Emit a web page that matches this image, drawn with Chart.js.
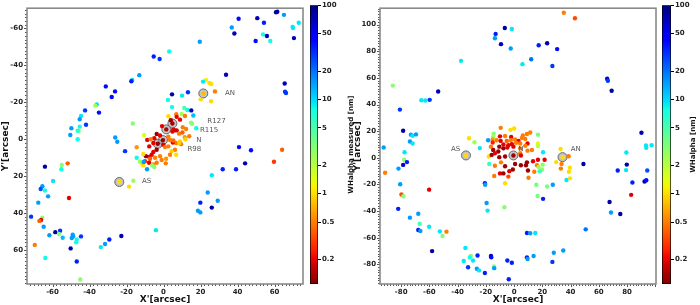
<!DOCTYPE html>
<html><head><meta charset="utf-8">
<script src="https://cdn.jsdelivr.net/npm/chart.js@4/dist/chart.umd.min.js"></script>
<style>
html,body{margin:0;padding:0;background:#fff;width:700px;height:305px;overflow:hidden}
canvas{position:absolute;left:0;top:0}
</style></head><body>
<canvas id="cL" width="700" height="305"></canvas>
<canvas id="cbL" width="700" height="305"></canvas>
<canvas id="cR" width="700" height="305"></canvas>
<canvas id="cbR" width="700" height="305"></canvas>
<script>
// ---------- data: left panel (WHalpha measured) ----------
const xL = [3.1,-5.3,-2.1,-13.1,-16.9,-17.4,-31.2,-26.2,-28,4.6,2.4,4.6,-36.1,-36.9,-42.4,-34.9,-44.6,-45.3,-41.9,-49.8,-45.3,-45.8,-46.4,-50.4,-46.4,-16.6,-26.1,-25,-20.8,-14.5,-10.5,
 61.5,60.8,65.1,73.1,69.8,70,40.6,50.7,54.3,36.9,38.3,53.8,55.9,57.7,49.8,70.5,19.6,33.8,65.5,65.7,66.2,23,21.4,24.8,25.8,13.2,10,21.5,27.8,20.1,25.7,11.2,12.9,15,6.9,9.8,11.6,16.1,8.9,4.8,14.9,15.4,5.3,6.2,7.1,17.7,10.4,8.4,10.2,13.9,11.5,11.8,8.9,6.8,5,9.5,40.8,47.3,64.1,
 7.1,2.6,3.9,1.5,-0.8,12.2,4.8,-3.7,-1.9,-5,-8.8,-6.9,-0.3,2.6,3.5,5.3,8.5,-3.1,-5.5,-7.7,-0.1,0.8,2.6,6.2,4.4,-3.7,-5.5,-6.4,-7.7,-9.5,-10.9,-7.3,-4.6,-1.9,-1,1.4,-3.7,-10,-11.8,-12.7,-14.5,-10.9,-5.5,-7.8,1.2,3.5,6.8,
 -64.1,-55,-55.2,-51.8,-59.7,-65.5,-66.4,-64.1,-62.4,-51.1,-67.7,-71.6,-65.5,-66.2,-67.1,-64.8,-58.5,-55.9,-56.5,-61.7,-49.1,-48.9,-49.6,-46.9,-47.2,-44.6,-54.5,-50.2,-69.6,-63.9,-46.9,-45,-29.3,-31.6,-33.9,-22.8,-4.1,-23.9,-18.6,-16.3,-10.7,-8.9,-6.1,-5,
 44.1,39.2,32,59.7,26.1,23.9,29.3,19.9,26.1,18.6,19.9];
const yL = [-47.5,-44.8,-43.5,-34.7,-32.1,-31.4,-28.6,-25.9,-22.9,-24.3,-21.3,-17.4,-18.8,-18.2,-15.6,-14.4,-12.6,-10.8,-7.8,-5.9,-6.8,-4.6,-4.6,-2.3,0,-8.5,-0.9,1.4,6.5,4.4,-2.3,
 -69.1,-68.8,-67.4,-63.1,-60.8,-60.3,-65.3,-65.6,-63.1,-60.5,-57.3,-56.8,-55.9,-53.2,-53.2,-54.8,-52.8,-34.9,-30.2,-25.7,-25,-32.1,-31.2,-30.5,-29.9,-25.4,-23.6,-24.8,-25.9,-21.6,-20.6,-16.9,-15.8,-15.6,-13.5,-13.7,-12.6,-12.8,-10.6,-8.5,-9,-8.4,-5.2,-4.8,-4.8,-5.9,-6.5,-3,-3.6,-1.6,-1.1,0,1.2,2.1,1.8,2.7,4.3,6,5.7,
 -12.1,-12.4,-10.3,-5.3,-7.1,-5.5,-4.1,-2.8,-2,-0.5,0.4,0,0.5,-1.4,0.4,0.7,2.1,2.5,2.1,3.9,3,4.3,3.9,5.7,6.5,5.7,6.9,8.4,9.6,9.2,8,10.6,10.1,9.2,11.3,10.6,12.8,11.9,12.9,12.2,10.1,14.2,13.7,12.8,13.1,8.4,8.4,
 14.9,14,16.3,13.1,22.7,25.5,27,27.8,31,31.9,34.4,42,42.6,43.8,44.3,47.5,50.4,49.6,51.4,52.1,51.8,52.7,53.6,54.4,55.9,52.7,53.4,59.2,57.3,64.4,66.3,76.1,54.4,56.8,58.5,52.5,49.3,23.2,25.7,22.5,12.4,16.3,14.2,15.1,
 13.1,16.3,16.3,12.2,19.5,28.9,33.4,34.4,37.1,38.8,39.7];
const wL = [8,35,30,15,10,35,40,40,40,80,8,8,10,2.5,30,40,9,15,30,15,8,2.5,7,15,8,3,15,15,30,0.6,1.5,
 80,80,15,9,9,9,40,70,35,15,70,8,70,8,40,70,15,70,70,30,30,1.1,9,1,1,30,9,0.8,0.5,1,1,5,8,70,0.5,2.5,0.5,12,0.2,0.15,3,3,0.2,0.2,0.18,8,0.5,0.5,0.4,0.5,0.6,0.9,0.9,0.5,0.2,0.5,40,40,0.4,
 0.2,1,0.13,0.15,0.2,0.5,0.2,0.13,0.2,0.2,0.2,0.5,0.13,0.5,0.5,0.45,0.9,0.13,0.2,0.2,0.2,0.5,0.5,0.5,0.9,0.13,0.2,0.2,0.2,0.13,1,0.4,0.5,0.5,0.5,0.6,0.5,0.25,1,2.5,8,1,0.5,0.2,0.5,0.5,1,
 80,3,8,0.4,9,15,25,8,15,0.2,15,30,3,0.2,0.4,15,80,30,3,15,15,15,15,8,8,30,12,80,0.5,8,35,3,35,15,9,80,9,1,1,2.5,15,15,3,3,
 80,35,35,0.3,9,15,15,35,80,15,15];
const markLx = [21.5,4.8,1.5,-0.3,-3.1,-23.9];
const markLy = [-24.8,-8.5,-5.3,0.5,2.5,23.2];
const labLtext = ['AN','R127','R115','N','R98','AS'];
const labLx = [33.2,23.7,19.7,17.7,12.9,-11.6];
const labLy = [-24.8,-9.7,-4.8,0.4,5.2,22.9];
const xTicksL = [-60,-40,-20,0,20,40,60];
const yTicksL = [-60,-40,-20,0,20,40,60];

// ---------- data: right panel (WHalpha) ----------
const xR = [-6.6,-1.6,-13.1,-13.6,-9.3,-2.4,12.1,5.9,-37.6,-85.9,-53.8,-65.7,-62.9,-59.8,-80.9,-78.6,-73.1,-71.9,-69.5,-73.8,-71.9,-92.4,-77.6,-31.9,-28.1,-24.3,-18.4,-14.5,-14.8,-9.5,-2.6,0,
 35.2,43.1,17.4,23.4,30.5,27.1,65.9,66.4,69.1,90.2,93.4,93.6,97.4,32.9,16.9,16.9,16.9,20.5,11.4,9.1,6.2,7.9,9.5,7.9,12.6,79.5,
 -34.1,-77.9,-75.9,-78.6,-81.9,-91.4,-80.7,-79.8,-78.4,-60.2,-82.1,-67.9,-73.8,-66.9,-67.9,-66.4,-60.2,-52.6,-47.9,-50.7,-58.1,-34.5,-30.7,-31.4,-29.1,-35.7,-25.9,-32.6,-26.4,-24.8,-20.7,-16.4,-16.2,-14.3,-14.1,-4.8,-1.6,-3.8,-20.7,-20.5,-19.5,-18.8,-6.9,-6.4,-14.1,-4.1,9.1,11.4,15,-17.9,-0.5,
 34.3,38.6,49.1,73.4,79.8,79.3,94.3,83.8,92.4,93.6,82.9,67.6,68.6,75.2,50.7,34.8,28.1,27.1,13.8,9.1,9.5,20.5,16.6,15.7,23.4,27.4,37.1,39.5,38.8,39.5,33.1,33.6,29.8,10.2,9.8,4.8,8.4,13.4,16.9,21.6,14.3,16.2,17.4,20.2,19.8,
 -10,-6.4,-2.1,-12.4,-9.5,-5.2,-2.4,0.7,3.1,5.5,-7.6,-4.1,-1.6,1.4,4.3,-10.5,-7.6,-4.8,-0.5,4.3,-16.4,-15.2,-14.8,-11.2,9.5,4.3,4.8,-6.4,-10.5,-15.9,-17.6,-13.6,-13.6,-9.3,-6.4,0.7,9.1,-3.4,-0.9,-10,-7.6,18.1,-15.2];
const yR = [97.4,96.7,93,89.7,85.3,82.1,74,70.3,72.8,54.2,49.8,43.2,43,43.5,36.2,20.3,17.4,16.6,17.6,12.2,10.8,7.8,4.2,14.7,11.7,7.3,13.2,18.1,15.7,22.5,21,22,
 108.9,104.8,84.5,86,81.6,68.9,59.3,57.9,50.3,18.8,9.3,7.6,9.5,6.6,17.4,10.8,8.8,4.2,19,17.9,16.8,14.2,10.8,9.1,5.9,4,
 1.8,-1.5,-3.2,-5.3,-8.1,-11.2,-19.8,-27.5,-28.8,-23.9,-38.3,-42,-44.9,-49.5,-54.2,-54.9,-51.7,-55.2,-55.4,-58.6,-70,-67.6,-73.7,-74.7,-77.1,-77.4,-73.3,-82.1,-83.2,-84.5,-86.4,-73.7,-74.7,-81.5,-82.8,-77.1,-78.8,-91.1,-19,-20.2,-33.9,-39.6,-37.1,-19,-13.6,-14.1,-56.4,-56.6,-56.4,1,1.8,
 0.5,1.2,-4.6,-9.5,-5.1,-9.2,-9.5,-18.5,-17.8,-16.8,-27.8,-33.2,-41,-42.2,-53.7,-69.6,-71.3,-78.1,-73.7,-74.7,-75.9,-30.8,-28.6,-20.2,-21.5,-20.2,-16.6,-15.4,-10.5,-7.5,-8.1,-4.6,-3.2,-14.9,-9.5,-5.6,-5.6,-2.6,-1.5,-1.5,-10.5,-5.6,-6.8,-5.1,-8.8,
 16.1,16.4,15.7,13.2,12.7,12.7,13.2,13.7,12.7,14.9,10,9.5,10.3,11.3,10.8,8.4,7.1,7.8,8.4,7.1,8.4,13.7,5.9,4.7,5.4,3.4,1.8,1,0.5,2.2,-4.6,3.4,-5.9,-3.4,-6.3,-4.6,-3.4,-10,-8.8,-11.7,-11.7,-10,11.5];
const wR = [80,9,35,15,70,15,20,9,9,3,70,9,9,30,30,80,15,9,15,15,9,15,9,1,2.5,9,15,3,2.5,0.5,1,1,
 0.5,0.35,35,80,40,30,60,30,80,70,9,9,9,1,3.5,1.2,2,9,0.5,0.5,0.5,0.5,0.2,0.5,0.5,9,
 1,3,35,60,15,0.5,15,0.35,3,0.2,35,15,15,5,35,15,9,9,0.5,3,80,9,3,8,9,9,35,30,15,9,35,70,40,3,15,35,35,35,35,15,15,9,3,1,0.5,0.35,35,15,9,1,0.13,
 1,0.5,80,35,80,9,25,35,80,40,0.2,80,15,80,20,15,15,30,15,35,15,35,3.5,3.5,3.5,15,9,1,1,1,0.5,0.5,1,0.5,0.13,0.13,0.13,0.2,0.2,0.2,0.5,0.5,2.5,3,3,
 0.2,0.5,0.2,0.5,0.2,0.4,0.5,0.5,0.2,0.5,0.2,0.2,0.2,0.5,0.5,0.13,0.13,0.2,0.2,0.5,0.5,0.6,0.13,0.13,0.5,0.5,0.2,0.13,0.13,0.13,6,0.2,0.5,0.5,0.13,0.13,0.13,0.2,0.13,0.2,0.13,6,0.25];
const markRx = [-34.1,-0.5,34.3];
const markRy = [1.8,1.8,0.5];
const labRtext = ['AS','N','AN'];
const labRx = [-41.4,4.8,43.6];
const labRy = [6.6,6.6,6.6];
const xTicksR = [-80,-60,-40,-20,0,20,40,60,80];
const yTicksR = [-80,-60,-40,-20,0,20,40,60,80,100];

// ---------- colour bar ----------
const cbMin = 0.11, cbMax = 100;
const cbTicks = [0.2,0.5,1,2,5,10,20,50,100];

// jet colormap
function lerpStops(t, st){
  for(let i=1;i<st.length;i++){ if(t<=st[i][0]){ const a=st[i-1], b=st[i]; return a[1]+(b[1]-a[1])*(t-a[0])/(b[0]-a[0]); } }
  return st[st.length-1][1];
}
function jet(t){
  t=Math.max(0,Math.min(1,t));
  const r=lerpStops(t,[[0,0],[0.35,0],[0.66,1],[0.89,1],[1,0.5]]);
  const g=lerpStops(t,[[0,0],[0.125,0],[0.375,1],[0.64,1],[0.91,0],[1,0]]);
  const b=lerpStops(t,[[0,0.5],[0.11,1],[0.34,1],[0.65,0],[1,0]]);
  return `rgb(${Math.round(r*255)},${Math.round(g*255)},${Math.round(b*255)})`;
}
function jetR(f){ return jet(1-f); }
function colorFor(w){
  const f=(Math.log10(w)-Math.log10(cbMin))/(Math.log10(cbMax)-Math.log10(cbMin));
  return jetR(f);
}

const FONT = 'DejaVu Sans';
const decor = {
  id:'decor',
  afterDraw(chart, args, o){
    const {ctx, chartArea:a, scales:{x,y}} = chart;
    ctx.save();
    ctx.strokeStyle='#555'; ctx.lineWidth=1;
    ctx.beginPath();
    for(let v=Math.ceil(x.min/2)*2; v<=x.max; v+=2){
      const p=Math.round(x.getPixelForValue(v))+0.5; const L=(v%20===0)?3:2;
      ctx.moveTo(p,a.bottom); ctx.lineTo(p,a.bottom+L);
    }
    for(let v=Math.ceil(y.min/2)*2; v<=y.max; v+=2){
      const p=Math.round(y.getPixelForValue(v))+0.5; const L=(v%20===0)?3:2;
      ctx.moveTo(a.left,p); ctx.lineTo(a.left-L,p);
    }
    ctx.stroke();
    ctx.strokeStyle='#8a8a8a'; ctx.lineWidth=1.6;
    ctx.strokeRect(a.left,a.top,a.right-a.left,a.bottom-a.top);
    ctx.fillStyle='#555'; ctx.font='7px "'+FONT+'"'; ctx.textBaseline='middle'; ctx.textAlign=o.align;
    o.text.forEach((t,i)=>ctx.fillText(t, x.getPixelForValue(o.x[i]), y.getPixelForValue(o.y[i])));
    ctx.restore();
  }
};

function scatter(id, xs, ys, ws, mx, my, xmin, xmax, ymin, ymax, rev, xt, yt, pad, ywidth, lab){
  const pts = xs.map((v,i)=>({x:v,y:ys[i]}));
  const marks = mx.map((v,i)=>({x:v,y:my[i]}));
  const tickFont = {family:FONT, size:7, weight:'bold'};
  const titleFont = {family:FONT, size:9, weight:'bold'};
  return new Chart(document.getElementById(id), {
    type:'scatter',
    data:{datasets:[
      {data:pts, backgroundColor:ws.map(colorFor), pointRadius:2.2, pointHoverRadius:2.2, borderWidth:0},
      {data:marks, backgroundColor:'rgba(150,150,150,0.55)', borderColor:'#666', borderWidth:1, pointRadius:4.5, pointHoverRadius:4.5}
    ]},
    options:{
      responsive:false, animation:false, devicePixelRatio:1,
      layout:{padding:pad},
      plugins:{legend:{display:false}, tooltip:{enabled:false}, decor:lab},
      scales:{
        x:{type:'linear', min:xmin, max:xmax,
           afterBuildTicks(s){ s.ticks = xt.map(v=>({value:v})); },
           afterFit(s){ s.height=21; },
           grid:{display:false, drawTicks:false}, border:{display:false},
           ticks:{font:tickFont, color:'#222', padding:4, maxRotation:0, autoSkip:false},
           title:{display:true, text:"X'[arcsec]", font:titleFont, color:'#111', padding:0}},
        y:{type:'linear', min:ymin, max:ymax, reverse:rev,
           afterBuildTicks(s){ s.ticks = yt.map(v=>({value:v})); },
           afterFit(s){ s.width=ywidth; },
           grid:{display:false, drawTicks:false}, border:{display:false},
           ticks:{font:tickFont, color:'#222', padding:4, autoSkip:false},
           title:{display:true, text:"Y'[arcsec]", font:titleFont, color:'#111', padding:0}}
      }
    },
    plugins:[decor]
  });
}

const cbTitle = {
  id:'cbtitle',
  afterDraw(chart,args,o){
    const s=chart.scales.y, ctx=chart.ctx;
    ctx.save();
    ctx.translate(s.right-7, (s.top+s.bottom)/2);
    ctx.rotate(-Math.PI/2);
    ctx.font='bold 7px "'+FONT+'"'; ctx.fillStyle='#111';
    ctx.textAlign='center'; ctx.textBaseline='middle';
    ctx.fillText(o.text,0,0);
    ctx.restore();
  }
};
function gradient(chart){
  const a=chart.chartArea; if(!a) return '#888';
  const y=chart.scales.y;
  const p0=y.getPixelForValue(cbMin), p1=y.getPixelForValue(cbMax);
  const g=chart.ctx.createLinearGradient(0,p0,0,p1);
  for(let i=0;i<=40;i++){ const f=i/40; g.addColorStop(f, jetR(f)); }
  return g;
}
function colorbar(id, pad, ywidth, title){
  return new Chart(document.getElementById(id), {
    type:'bar',
    data:{labels:[''], datasets:[{data:[[cbMin,cbMax]], backgroundColor:(c)=>gradient(c.chart), borderColor:'#000', borderWidth:1, borderSkipped:false, barPercentage:1, categoryPercentage:1}]},
    options:{
      responsive:false, animation:false, devicePixelRatio:1,
      layout:{padding:pad},
      plugins:{legend:{display:false}, tooltip:{enabled:false}, cbtitle:{text:title}},
      scales:{
        x:{display:false},
        y:{type:'logarithmic', position:'right', min:cbMin, max:cbMax,
           afterBuildTicks(s){ s.ticks = cbTicks.map(v=>({value:v})); },
           afterFit(s){ s.width=ywidth; },
           grid:{drawOnChartArea:false, drawTicks:true, tickLength:3, color:'#000'},
           border:{display:false},
           ticks:{callback:(v)=>String(v), font:{family:FONT,size:7,weight:'bold'}, color:'#222', padding:1, autoSkip:false}}
      }
    },
    plugins:[cbTitle]
  });
}

scatter('cL', xL, yL, wL, markLx, markLy, -73.8, 75.4, -71, 78.5, true, xTicksL, yTicksL,
  {left:0, right:397, top:2, bottom:0}, 27,
  {text:labLtext, x:labLx, y:labLy, align:'left'});
colorbar('cbL', {left:310, right:342, top:3, bottom:21}, 40, 'WHalpha measured [nm]');
scatter('cR', xR, yR, wR, markRx, markRy, -95, 100.5, -94.7, 112.3, false, xTicksR, yTicksR,
  {left:352, right:44, top:2, bottom:0}, 28,
  {text:labRtext, x:labRx, y:labRy, align:'center'});
colorbar('cbR', {left:662, right:0, top:3, bottom:21}, 29, 'WHalpha [nm]');
</script>
</body></html>
